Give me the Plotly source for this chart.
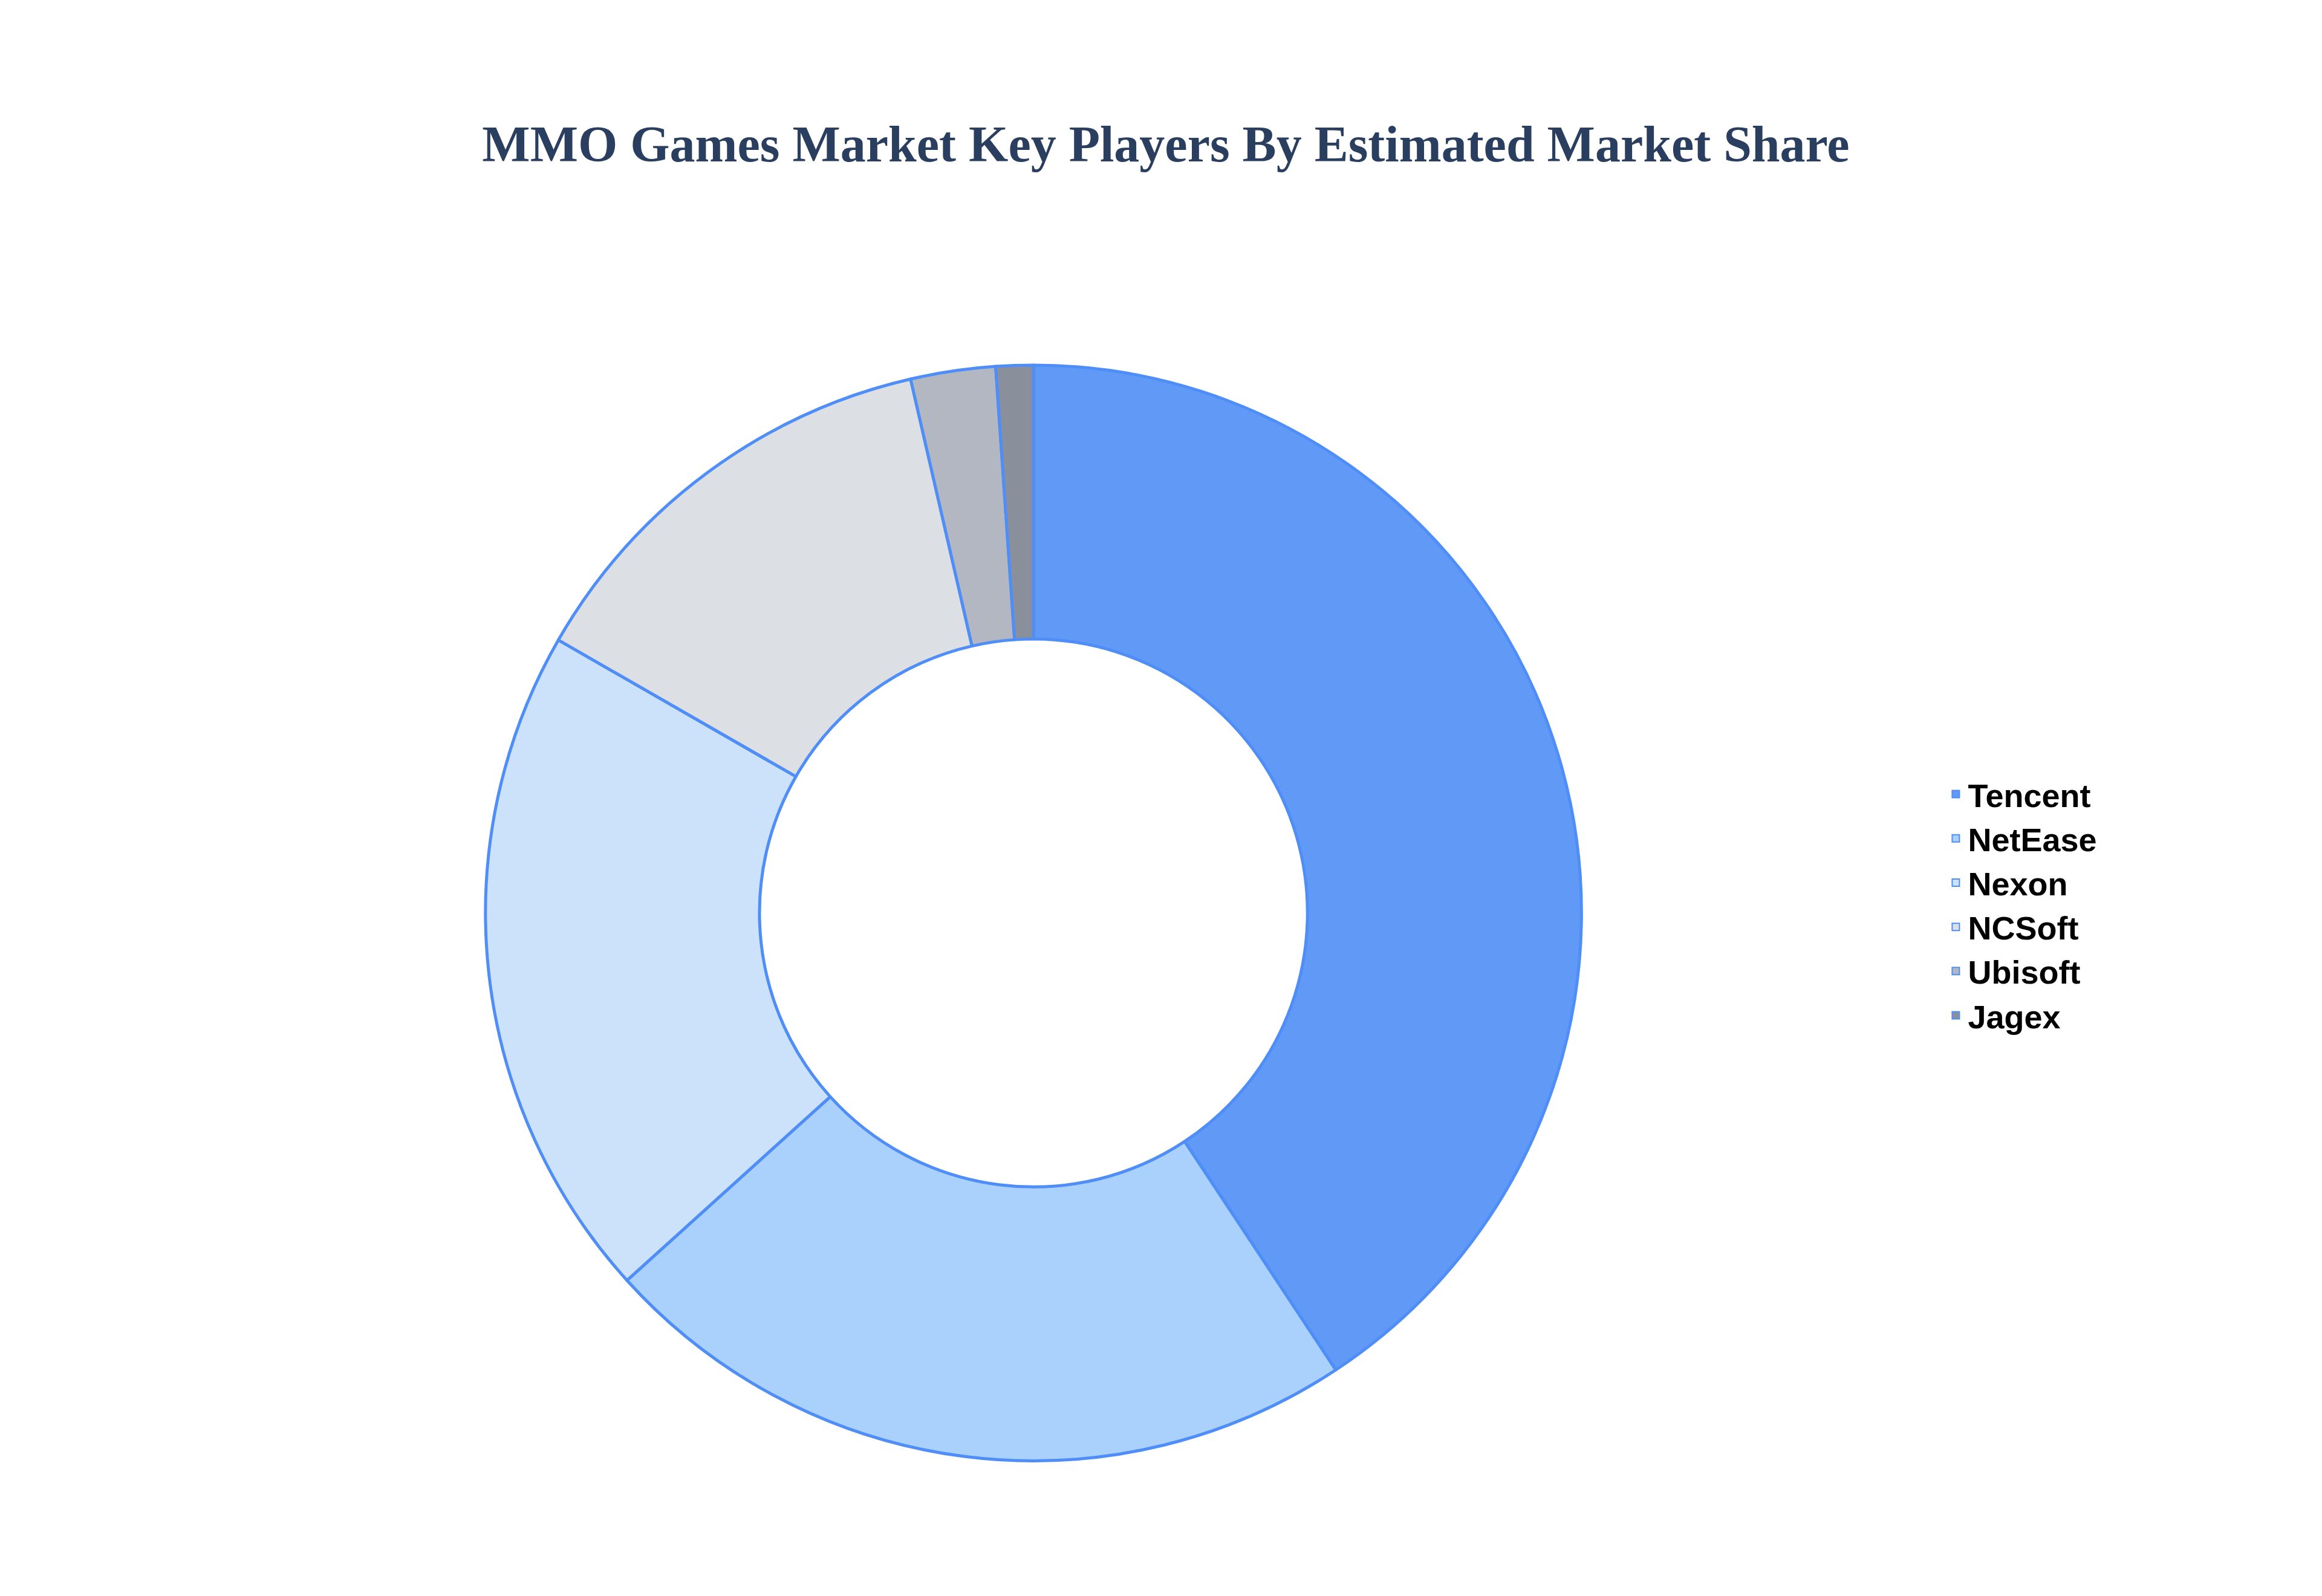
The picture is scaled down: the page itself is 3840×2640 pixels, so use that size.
import plotly.graph_objects as go

companies = ["Tencent", "NetEase", "Nexon", "NCSoft", "Ubisoft", "Jagex"]
share = [40.7, 22.6, 20.0, 13.1, 2.5, 1.1]
colors = ["#6199F7", "#A9D1FC", "#CCE1FA", "#DCDFE4", "#B2B7C2", "#8A8F9C"]

fig = go.Figure(go.Pie(
    labels=companies, values=share, hole=0.5, sort=False, direction="clockwise",
    rotation=0, textinfo="none", hoverinfo="label+percent",
    marker=dict(colors=colors, line=dict(color="#4F8EF7", width=5)),
    domain=dict(x=[0.207, 0.679], y=[0.087, 0.775]),
))

fig.update_layout(
    width=3840, height=2640,
    paper_bgcolor="white", plot_bgcolor="white",
    title=dict(text="<b>MMO Games Market Key Players By Estimated Market Share</b>",
               x=0.5, y=0.913, xanchor="center", yanchor="middle",
               font=dict(family="Times New Roman, Liberation Serif, serif", size=84, color="#2A3F5F")),
    legend=dict(x=0.835, y=0.436, yanchor="middle",
                font=dict(family="Arial, Liberation Sans", size=54, color="black", weight="bold"),
                itemsizing="constant"),
    margin=dict(l=0, r=0, t=0, b=0),
)

fig.write_html("out.html")
